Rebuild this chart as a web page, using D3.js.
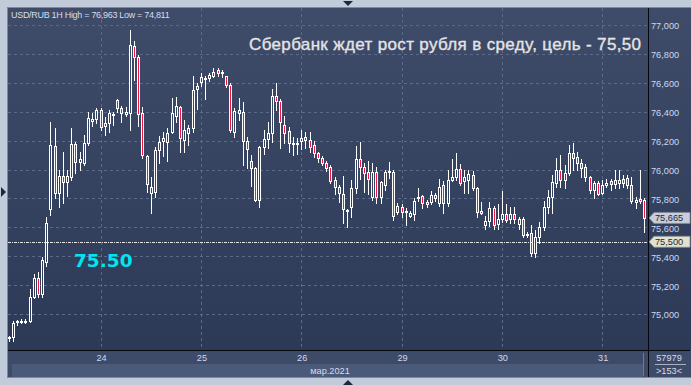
<!DOCTYPE html>
<html lang="ru">
<head>
<meta charset="utf-8">
<title>USD/RUB 1H</title>
<style>
  body { margin: 0; background: #c1cbda; }
  svg { display: block; }
  text { font-family: "Liberation Sans", Arial, sans-serif; }
  .grid line { stroke: #5b6a89; stroke-width: 1px; stroke-dasharray: 3,3; shape-rendering: crispEdges; }
  .wick { stroke: #fff; stroke-width: 1px; shape-rendering: crispEdges; }
  .body { stroke: #fff; stroke-width: 1px; shape-rendering: crispEdges; }
  .axis text { fill: #cdd8ee; font-size: 9.2px; font-family: "Liberation Sans", Arial, sans-serif; }
  .axis path, .axis line { display: none; }
</style>
</head>
<body>
<script src="https://d3js.org/d3.v7.min.js"></script>
<script>
  // hourly candles, 23.03 02:00 .. 31.03 10:00
  const opens = [
    74835, 74842, 74945, 74950, 74945, 74950, 75120, 75250, 75140, 75360,
    75727, 76163, 75837, 75955, 75914, 75948, 76177, 76052, 76045, 76184,
    76335, 76350, 76412, 76300, 76320, 76380, 76481, 76426, 76385, 76390,
    76855, 76780, 76390, 76093, 75837, 75845, 76135, 76200, 76190, 76260,
    76370, 76430, 76204, 76255, 76290, 76555, 76605, 76635, 76635, 76650,
    76690, 76675, 76645, 76585, 76260, 76412, 76400, 76197, 76060, 76010,
    75789, 76156, 76211, 76252, 76510, 76475, 76310, 76265, 76185, 76182,
    76196, 76225, 76204, 76170, 76114, 76080, 76045, 76017, 75927, 75880,
    75830, 75720, 75740, 75870, 76073, 76017, 75985, 75810, 75985, 75810,
    75890, 75985, 75980, 75705, 75740, 75710, 75680, 75690, 75805, 75815,
    75762, 75775, 75825, 75770, 75890, 75765, 75930, 75950, 76004, 75920,
    75930, 75960, 75870, 75700, 75617, 75645, 75735, 75620, 75660, 75690,
    75655, 75690, 75620, 75655, 75545, 75560, 75420, 75530, 75600, 75740,
    75810, 75905, 75997, 75930, 75975, 76115, 76085, 76045, 76017, 75948,
    75858, 75905, 75837, 75890, 75920, 75900, 75905, 75935, 75940, 75890,
    75775, 75795, 75790
  ];
  const highs = [
    74850, 74950, 74960, 74962, 74965, 75170, 75280, 75290, 75395, 75670,
    76329, 76290, 75997, 76120, 75997, 76290, 76190, 76120, 76240, 76400,
    76390, 76425, 76425, 76360, 76410, 76400, 76490, 76440, 76430, 76963,
    76890, 76790, 76430, 76100, 75950, 76155, 76230, 76260, 76290, 76495,
    76500, 76440, 76343, 76310, 76650, 76600, 76670, 76650, 76670, 76700,
    76700, 76690, 76650, 76600, 76425, 76495, 76470, 76225, 76100, 76020,
    76160, 76273, 76330, 76557, 76600, 76490, 76370, 76295, 76225, 76220,
    76273, 76260, 76260, 76200, 76120, 76090, 76060, 76030, 75950, 75890,
    75955, 75730, 75925, 76160, 76190, 76045, 76060, 76045, 76020, 75920,
    75995, 76050, 75995, 75770, 75760, 75735, 75710, 75800, 75870, 75825,
    75790, 75850, 75840, 75935, 75920, 76000, 76070, 76115, 76035, 76000,
    76000, 75990, 75880, 75775, 75680, 75775, 75750, 75760, 75850, 75760,
    75740, 75740, 75670, 75670, 75570, 75615, 75580, 75640, 75780, 75860,
    75960, 76080, 76100, 76030, 76170, 76185, 76120, 76070, 76040, 75955,
    75920, 75920, 75925, 75935, 75935, 76000, 76000, 75960, 75965, 75950,
    75810, 76000, 75800
  ];
  const lows = [
    74811, 74815, 74925, 74935, 74935, 74945, 75110, 75115, 75120, 75330,
    75685, 75800, 75740, 75770, 75820, 75925, 75975, 75997, 76030, 76170,
    76300, 76320, 76270, 76240, 76260, 76310, 76400, 76330, 76370, 76270,
    76620, 76300, 76080, 75845, 75700, 75810, 76045, 76090, 76060, 76250,
    76330, 76120, 76118, 76170, 76260, 76420, 76580, 76490, 76615, 76640,
    76650, 76640, 76570, 76260, 76225, 76343, 76030, 76010, 75885, 75780,
    75740, 76108, 76150, 76190, 76412, 76150, 76185, 76120, 76100, 76110,
    76140, 76150, 76120, 76087, 76050, 76030, 75990, 75910, 75830, 75775,
    75630, 75600, 75670, 75840, 75935, 75845, 75830, 75790, 75770, 75770,
    75860, 75940, 75650, 75690, 75670, 75615, 75670, 75650, 75785, 75735,
    75740, 75760, 75780, 75750, 75700, 75750, 75920, 75930, 75890, 75840,
    75840, 75855, 75670, 75690, 75590, 75610, 75590, 75590, 75640, 75640,
    75630, 75630, 75590, 75530, 75530, 75400, 75395, 75490, 75580, 75700,
    75700, 75880, 75880, 75870, 75960, 75997, 75997, 75950, 75920, 75835,
    75800, 75825, 75830, 75880, 75860, 75875, 75875, 75880, 75870, 75770,
    75735, 75770, 75565
  ];
  const closes = [
    74842, 74940, 74950, 74945, 74950, 75115, 75250, 75140, 75375, 75630,
    76170, 75837, 75955, 75914, 75955, 76177, 76052, 76073, 76184, 76356,
    76350, 76412, 76294, 76325, 76390, 76385, 76426, 76390, 76395, 76860,
    76780, 76385, 76100, 75900, 75880, 76135, 76190, 76220, 76250, 76390,
    76440, 76218, 76273, 76290, 76550, 76578, 76640, 76630, 76655, 76675,
    76668, 76672, 76585, 76273, 76405, 76390, 76197, 76142, 76010, 75789,
    76156, 76211, 76252, 76510, 76475, 76330, 76252, 76185, 76180, 76186,
    76220, 76204, 76156, 76114, 76080, 76045, 76010, 75920, 75880, 75837,
    75727, 75715, 75870, 76073, 76017, 75975, 75935, 75985, 75810, 75915,
    75985, 75990, 75680, 75747, 75705, 75715, 75700, 75780, 75810, 75765,
    75772, 75825, 75805, 75880, 75765, 75927, 75950, 76004, 75910, 75950,
    75970, 75870, 75705, 75715, 75645, 75735, 75617, 75655, 75690, 75650,
    75690, 75660, 75655, 75545, 75555, 75420, 75530, 75600, 75740, 75810,
    75915, 75997, 75930, 75975, 76115, 76080, 76045, 76010, 75948, 75858,
    75905, 75830, 75890, 75910, 75900, 75927, 75925, 75910, 75890, 75780,
    75790, 75785, 75665
  ];

  // first candle of each day (index) and its label
  const dayIndex = [22, 46, 70, 94, 118, 142];
  const dayLabels = ["24", "25", "26", "29", "30", "31"];
  const priceTicks = d3.range(75000, 77001, 200);
  const targetLevel = 75500;

  const W = 691, H = 385;
  const plot = {left: 8, top: 8, right: 648, bottom: 350};

  const x = d3.scaleLinear().domain([0, opens.length - 1]).range([9.1, 644.5]);
  const y = d3.scaleLinear().domain([75000, 77000]).range([314, 25]);
  const fmt = d3.format(",");

  const svg = d3.select("body").append("svg")
    .attr("width", W)
    .attr("height", H);

  const defs = svg.append("defs");
  const grad = defs.append("linearGradient")
    .attr("id", "bg")
    .attr("gradientUnits", "userSpaceOnUse")
    .attr("x1", 0).attr("y1", plot.top)
    .attr("x2", 0).attr("y2", plot.bottom);
  grad.append("stop").attr("offset", 0).attr("stop-color", "#3f4c69");
  grad.append("stop").attr("offset", 1).attr("stop-color", "#2c3957");

  defs.append("clipPath").attr("id", "clip")
    .append("rect")
    .attr("x", plot.left).attr("y", plot.top)
    .attr("width", plot.right - plot.left).attr("height", plot.bottom - plot.top);

  // outer frame
  svg.append("rect").attr("width", W).attr("height", H).attr("fill", "#c1cbda");
  svg.append("rect")
    .attr("x", 7.5).attr("y", 7.5).attr("width", W - 7).attr("height", 370)
    .attr("fill", "#3d4b68").attr("stroke", "#7d899f");

  // plot + price axis background
  svg.append("rect")
    .attr("x", plot.left).attr("y", plot.top)
    .attr("width", W - plot.left).attr("height", plot.bottom - plot.top)
    .attr("fill", "url(#bg)");

  // grid
  const grid = svg.append("g").attr("class", "grid");
  grid.selectAll(".h").data(priceTicks).join("line")
    .attr("x1", plot.left).attr("x2", plot.right)
    .attr("y1", d => Math.round(y(d)) + 0.5).attr("y2", d => Math.round(y(d)) + 0.5);
  grid.selectAll(".v").data(dayIndex).join("line")
    .attr("x1", d => Math.floor(x(d)) + 0.5).attr("x2", d => Math.floor(x(d)) + 0.5)
    .attr("y1", plot.top).attr("y2", plot.bottom);

  // candles
  const candles = svg.append("g").attr("clip-path", "url(#clip)")
    .selectAll("g").data(opens.map((o, i) => ({i, o, h: highs[i], l: lows[i], c: closes[i]})))
    .join("g");

  candles.append("line").attr("class", "wick")
    .attr("x1", d => Math.floor(x(d.i)) + 0.5).attr("x2", d => Math.floor(x(d.i)) + 0.5)
    .attr("y1", d => Math.round(y(d.h))).attr("y2", d => Math.round(y(d.l)) + 1);

  candles.append("rect").attr("class", "body")
    .attr("x", d => Math.floor(x(d.i)) - 0.5)
    .attr("y", d => Math.round(y(Math.max(d.o, d.c))) + 0.5)
    .attr("width", 2)
    .attr("height", d => Math.max(Math.round(y(Math.min(d.o, d.c))) - Math.round(y(Math.max(d.o, d.c))), 1))
    .attr("fill", d => d.c < d.o ? "#f0163f" : "url(#bg)");

  // 75.50 target line
  const ty = Math.round(y(targetLevel)) + 0.5;
  svg.append("line")
    .attr("x1", plot.left).attr("x2", plot.right)
    .attr("y1", ty).attr("y2", ty)
    .attr("stroke", "#e6e6e6").attr("stroke-dasharray", "3,1,1,1")
    .attr("shape-rendering", "crispEdges");

  svg.append("text")
    .attr("x", 74).attr("y", 267)
    .style("font-family", "'DejaVu Sans', Verdana, sans-serif")
    .style("font-weight", "bold").style("font-size", "18.5px")
    .attr("fill", "#00e6f0")
    .text("75.50");

  // titles
  svg.append("text")
    .attr("x", 11).attr("y", 18)
    .style("font-size", "9px").style("letter-spacing", "-0.3px").attr("fill", "#d6dcea")
    .text("USD/RUB 1H High = " + fmt(d3.max(highs)) + " Low = " + fmt(d3.min(lows)));

  svg.append("text")
    .attr("x", 249).attr("y", 50)
    .style("font-size", "17px").style("letter-spacing", "0.35px")
    .attr("fill", "#e4e4e4").attr("stroke", "#e4e4e4").attr("stroke-width", 0.35)
    .text("Сбербанк ждет рост рубля в среду, цель - 75,50");

  // price axis
  svg.append("g").attr("class", "axis")
    .attr("transform", `translate(${plot.right},1)`)
    .call(d3.axisRight(y).tickValues(priceTicks).tickFormat(fmt).tickSize(0).tickPadding(3));

  // price markers on the axis
  function marker(v, fill) {
    const cy = y(v);
    const g = svg.append("g");
    g.append("path")
      .attr("d", `M649,${cy} L654,${cy - 5.5} L690,${cy - 5.5} L690,${cy + 5.5} L654,${cy + 5.5} Z`)
      .attr("fill", fill).attr("stroke", "#7f8aa0").attr("stroke-width", 0.8);
    g.append("text")
      .attr("x", 655).attr("y", cy).attr("dy", "0.35em")
      .style("font-size", "9.2px").attr("fill", "#1b2640")
      .text(fmt(v));
  }
  marker(closes[closes.length - 1], "#c9cdd8");
  marker(targetLevel, "#e3e3cc");

  // bottom bands
  svg.append("rect").attr("x", plot.left).attr("y", plot.bottom)
    .attr("width", W - plot.left - 1).attr("height", 27).attr("fill", "#3d4b68");
  svg.append("rect").attr("x", 12).attr("y", 364)
    .attr("width", 631).attr("height", 13).attr("fill", "#4a5a78");
  svg.append("line").attr("x1", 643.5).attr("x2", 643.5).attr("y1", 353).attr("y2", 376)
    .attr("stroke", "#6b7a94");

  svg.append("g").attr("class", "axis")
    .attr("transform", `translate(0,${plot.bottom})`)
    .call(d3.axisBottom(x).tickValues(dayIndex).tickFormat((d, i) => dayLabels[i]).tickSize(0).tickPadding(4));

  svg.append("text")
    .attr("x", 330).attr("y", 373.5).attr("text-anchor", "middle")
    .style("font-size", "9.2px").attr("fill", "#d6dcea")
    .text("мар.2021");

  svg.append("text")
    .attr("x", 669).attr("y", 361).attr("text-anchor", "middle")
    .style("font-size", "9.2px").attr("fill", "#d6dcea")
    .text("57979");
  svg.append("line").attr("x1", 655).attr("x2", 686).attr("y1", 364.5).attr("y2", 364.5)
    .attr("stroke", "#a7b1c4");
  svg.append("text")
    .attr("x", 669).attr("y", 374).attr("text-anchor", "middle")
    .style("font-size", "9.2px").attr("fill", "#d6dcea")
    .text(">" + opens.length + "<");

  // separators
  svg.append("line").attr("x1", plot.left).attr("x2", W - 1)
    .attr("y1", plot.bottom + 0.5).attr("y2", plot.bottom + 0.5).attr("stroke", "#05080f");
  svg.append("line").attr("x1", plot.right + 0.5).attr("x2", plot.right + 0.5)
    .attr("y1", plot.top).attr("y2", 377).attr("stroke", "#05080f");

  // scroll markers on the frame
  svg.append("path").attr("d", "M343,1 L353,1 L348,6 Z").attr("fill", "#1c2740");
  svg.append("path").attr("d", "M343,385 L353,385 L348,380 Z").attr("fill", "#1c2740");
  svg.append("path").attr("d", "M1,187 L6,192 L1,197 Z").attr("fill", "#1c2740");
</script>
</body>
</html>
